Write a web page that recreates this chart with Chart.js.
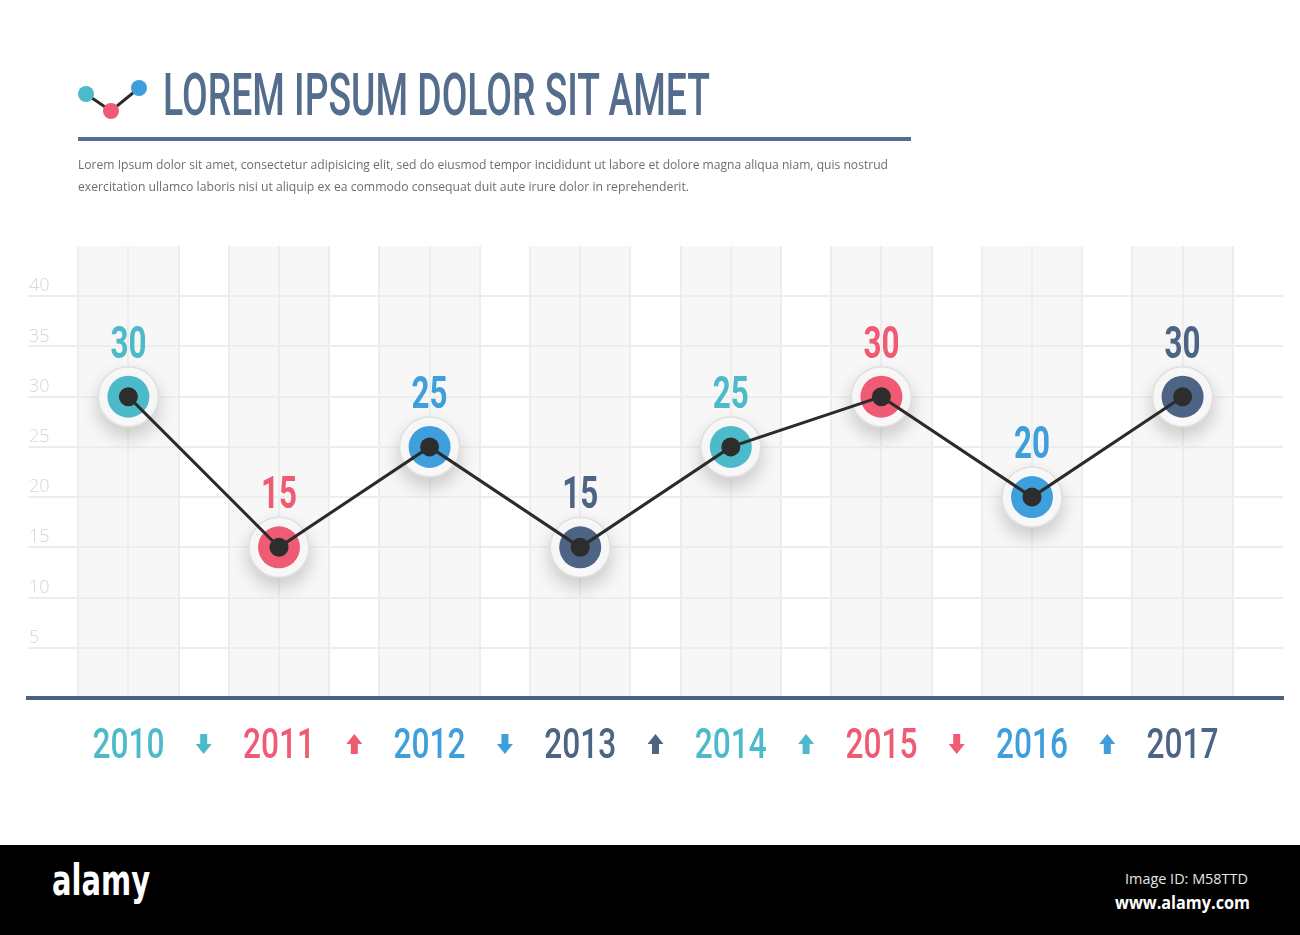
<!DOCTYPE html>
<html>
<head>
<meta charset="utf-8">
<script src="https://cdn.jsdelivr.net/npm/chart.js@4.4.1/dist/chart.umd.min.js"></script>
<style>
  html, body { margin: 0; padding: 0; background: #fff; }
  #page { position: relative; width: 1300px; height: 935px; overflow: hidden; background: #fff; }
  #chart { position: absolute; left: 0; top: 0; }
  .fit { position: absolute; white-space: nowrap; transform-origin: 0 0; }
  #title { left: 163px; top: 65px; font: 500 59px Roboto, sans-serif; line-height: 59px; color: #546d8c; }
  #rule { position: absolute; left: 78px; top: 137px; width: 833px; height: 4px; background: #566f8e; }
  .para { left: 78px; font: 12px "Open Sans", sans-serif; line-height: 16px; color: #6e6e6e; }
  #footer { position: absolute; left: 0; top: 845px; width: 1300px; height: 90px; background: #000; }
  #logo { left: 52px; top: 15px; font: bold 42px "DejaVu Sans Condensed", "DejaVu Sans", sans-serif; line-height: 42px; color: #fff; }
  #imgid { top: 24px; font: 15px "Open Sans", sans-serif; line-height: 18px; color: #e6e6e6; }
  #site { top: 46px; font: bold 18px "Open Sans", sans-serif; line-height: 22px; color: #fff; }
</style>
</head>
<body>
<div id="page">
  <canvas id="chart" width="1300" height="845"></canvas>

  <svg style="position:absolute;left:0;top:0" width="160" height="130">
    <polyline points="86,94 111,111 139,88" fill="none" stroke="#2b2b2b" stroke-width="3"/>
    <circle cx="86" cy="94" r="8" fill="#4dbac9"/>
    <circle cx="111" cy="111" r="8" fill="#ef5b73"/>
    <circle cx="139" cy="88" r="8" fill="#3f9fdc"/>
  </svg>
  <div id="title" class="fit">LOREM IPSUM DOLOR SIT AMET</div>
  <div id="rule"></div>
  <div id="p1" class="fit para" style="top:157px">Lorem Ipsum dolor sit amet, consectetur adipisicing elit, sed do eiusmod tempor incididunt ut labore et dolore magna aliqua niam, quis nostrud</div>
  <div id="p2" class="fit para" style="top:179px">exercitation ullamco laboris nisi ut aliquip ex ea commodo consequat duit aute irure dolor in reprehenderit.</div>

  <div id="footer">
    <div id="logo" class="fit">alamy</div>
    <div id="imgid" class="fit">Image ID: M58TTD</div>
    <div id="site" class="fit">www.alamy.com</div>
  </div>
</div>

<script>
// Data
const years = ['2010', '2011', '2012', '2013', '2014', '2015', '2016', '2017'];
const values = [30, 15, 25, 15, 25, 30, 20, 30];
const yTicks = [5, 10, 15, 20, 25, 30, 35, 40];
const palette = ['#4dbac9', '#ef5b73', '#3f9fdc', '#4d6484'];

const pointColors = years.map((_, i) => palette[i % palette.length]);
const points = values.map((v, i) => ({ x: i, y: v }));

// Squeeze HTML text to the width it has in the picture
function fit(id, width, right) {
  const el = document.getElementById(id);
  const w = el.getBoundingClientRect().width;
  if (right !== undefined) el.style.left = (right - width) + 'px';
  el.style.transform = 'scaleX(' + (width / w) + ')';
}

// Condensed canvas text, centered on x, sitting on baseline y
function squeezedText(ctx, txt, x, y, font, color, width) {
  ctx.save();
  ctx.font = font;
  ctx.fillStyle = color;
  ctx.textAlign = 'center';
  ctx.textBaseline = 'alphabetic';
  const w = ctx.measureText(txt).width;
  ctx.translate(x, y);
  ctx.scale(width / w, 1);
  ctx.fillText(txt, 0, 0);
  ctx.restore();
}

function arrow(ctx, x, y, up, color) {
  const d = up ? -1 : 1;
  ctx.save();
  ctx.fillStyle = color;
  ctx.beginPath();
  ctx.moveTo(x - 3.5, y - 10 * d);
  ctx.lineTo(x + 3.5, y - 10 * d);
  ctx.lineTo(x + 3.5, y);
  ctx.lineTo(x + 8, y);
  ctx.lineTo(x, y + 10 * d);
  ctx.lineTo(x - 8, y);
  ctx.lineTo(x - 3.5, y);
  ctx.closePath();
  ctx.fill();
  ctx.restore();
}

// Light grey column behind each year
const stripes = {
  id: 'stripes',
  beforeDraw(chart) {
    const { ctx, chartArea: a, scales: { x } } = chart;
    ctx.save();
    ctx.fillStyle = '#f7f7f7';
    years.forEach((_, i) => {
      const l = x.getPixelForValue(i - 1 / 3);
      const r = x.getPixelForValue(i + 1 / 3);
      ctx.fillRect(l, a.top, r - l, a.bottom - a.top);
    });
    ctx.restore();
  }
};

// Soft shadow under the white discs
const discShadow = {
  id: 'discShadow',
  beforeDatasetDraw(chart, args) {
    if (args.index !== 0) return;
    const c = chart.ctx;
    c.save();
    c.shadowColor = 'rgba(0,0,0,0.18)';
    c.shadowBlur = 18;
    c.shadowOffsetY = 9;
  },
  afterDatasetDraw(chart, args) {
    if (args.index === 0) chart.ctx.restore();
  }
};

// Value labels, year labels and trend arrows
const labels = {
  id: 'labels',
  afterDatasetsDraw(chart) {
    const { ctx, chartArea: a, scales: { x, y } } = chart;
    values.forEach((v, i) => {
      const px = x.getPixelForValue(i);
      const py = y.getPixelForValue(v);
      squeezedText(ctx, String(v), px, py - 39, 'bold 45px Roboto', pointColors[i], 36);
      squeezedText(ctx, years[i], px, a.bottom + 60, '500 42px Roboto', pointColors[i], 72);
      if (i < values.length - 1) {
        const mx = x.getPixelForValue(i + 0.5);
        arrow(ctx, mx, a.bottom + 46, values[i + 1] > v, pointColors[i]);
      }
    });
  }
};

new Chart(document.getElementById('chart'), {
  type: 'line',
  data: {
    datasets: [
      { data: points, showLine: false, pointRadius: 30, pointBackgroundColor: '#f9f9f9',
        pointBorderColor: '#e0e0e0', pointBorderWidth: 1.5, order: 3 },
      { data: points, showLine: false, pointRadius: 21, pointBackgroundColor: pointColors,
        pointBorderWidth: 0, order: 2 },
      { data: points, borderColor: '#2b2b2b', borderWidth: 3, pointRadius: 9.5,
        pointBackgroundColor: '#2d2d2d', pointBorderWidth: 0, order: 1 }
    ]
  },
  options: {
    responsive: false,
    animation: false,
    devicePixelRatio: 1,
    events: [],
    layout: { autoPadding: false, padding: { left: 26, right: 17, top: 246, bottom: 147 } },
    plugins: { legend: { display: false }, tooltip: { enabled: false } },
    scales: {
      x: {
        type: 'linear', min: -2 / 3, max: 7 + 2 / 3,
        afterBuildTicks: s => {
          s.ticks = [];
          for (let k = -1; k <= 22; k++) s.ticks.push({ value: k / 3 });
        },
        ticks: { display: false },
        grid: { color: '#ededed', lineWidth: 2, drawTicks: false },
        border: { display: true, color: '#4b6383', width: 4 }
      },
      y: {
        min: 0, max: 45,
        afterBuildTicks: s => { s.ticks = yTicks.map(v => ({ value: v })); },
        ticks: { mirror: true, padding: 1, labelOffset: -10, color: '#d6d6d6',
                 font: { family: 'Open Sans', size: 18, weight: 300 } },
        grid: { color: '#ededed', lineWidth: 2, drawTicks: false },
        border: { display: false }
      }
    }
  },
  plugins: [stripes, discShadow, labels]
});

fit('title', 547);
fit('p1', 810);
fit('p2', 611);
fit('logo', 98);
fit('imgid', 123, 1248);
fit('site', 135, 1250);
</script>
</body>
</html>
